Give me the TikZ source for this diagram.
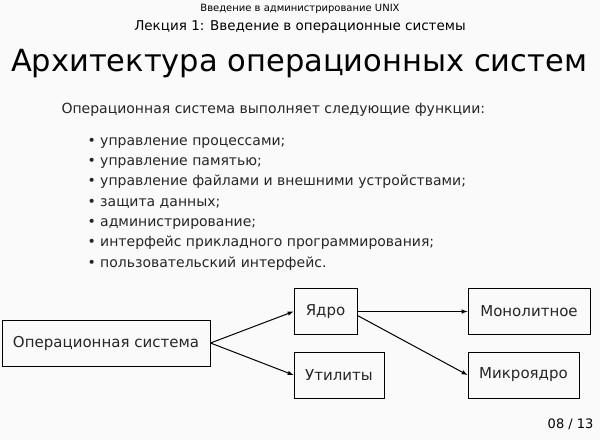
\documentclass[tikz,border=0pt]{standalone}
\usepackage{fontspec}
\setmainfont{DejaVu Sans}
\begin{document}
\begin{tikzpicture}[x=1pt,y=-1pt,
  box/.style={draw,line width=1pt,inner sep=0pt,minimum height=46pt,font=\fontsize{15}{17}\selectfont,text=black!85},
  arr/.style={-latex,line width=1pt},
  bul/.style={anchor=base west,font=\fontsize{14}{16}\selectfont,text=black!85}]
\fill[black!2] (0,0) rectangle (600,440);
\useasboundingbox (0,0) rectangle (600,440);
\node (h1) at (300,9) {\fontsize{10}{12}\selectfont Введение в администрирование UNIX};
\node (h2) at (300,27) {\fontsize{13.5}{15}\selectfont Лекция 1: Введение в операционные системы};
\node (t) at (299,64) {\fontsize{30.5}{34}\selectfont Архитектура операционных систем};
\node[bul] (intro) at (58,113) {Операционная система выполняет следующие функции:};
\foreach \t [count=\i] in {управление процессами;,управление памятью;,управление файлами и внешними устройствами;,защита данных;,администрирование;,интерфейс прикладного программирования;,пользовательский интерфейс.}
  \node[bul] (b\i) at (84,{125+20.3*\i}) {\textbullet\ \t};
\node[box,minimum width=208pt] (os) at (106,343) {Операционная система};
\node[box,minimum width=63pt] (kern) at (325.5,311.5) {Ядро};
\node[box,minimum width=90pt] (util) at (339,375) {Утилиты};
\node[box,minimum width=122pt] (mono) at (529,311.5) {Монолитное};
\node[box,minimum width=111pt] (micro) at (523.5,375) {Микроядро};
\draw[arr] (os.east) -- (kern.west);
\draw[arr] (os.east) -- (util.west);
\draw[arr] (kern.east) -- (mono.west);
\draw[arr] ([yshift=-4pt]kern.east) -- (micro.west);
\node[anchor=east] (pg) at (597,424) {\fontsize{13}{15}\selectfont 08 / 13};
\end{tikzpicture}
\end{document}
